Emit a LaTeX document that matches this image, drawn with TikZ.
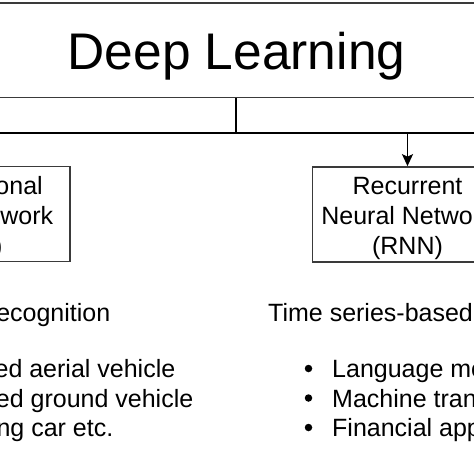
\documentclass[tikz,border=0pt]{standalone}
\usepackage{fontspec}
\setmainfont{Liberation Sans}
\usetikzlibrary{arrows.meta}
\definecolor{linec}{HTML}{3A3A3A}
\tikzset{
  boxline/.style={draw=linec, line width=1.7pt},
  catbox/.style={boxline, rectangle, inner sep=0pt, minimum height=95pt},
  boxtext/.style={font=\fontsize{25}{30}\selectfont, align=center, inner sep=0pt},
  bodytext/.style={font=\fontsize{25}{30}\selectfont, inner sep=0pt},
  bulletdot/.style={circle, fill=black, inner sep=0pt, minimum size=7.5pt},
  conn/.style={draw=black, line width=1.7pt},
  arr/.style={conn, -{Stealth[length=12pt, width=11pt, inset=2.5pt]}}
}
\begin{document}
\begin{tikzpicture}[x=1pt, y=1pt]
\useasboundingbox (0,0) rectangle (474,-474);
\clip (0,0) rectangle (474,-474);
\fill[white] (0,0) rectangle (474,-474);

% Deep Learning box
\node[catbox, minimum width=700pt, minimum height=94.5pt] (dl) at (236,-50.2) {};
\node[font=\fontsize{51.5}{60}\selectfont, inner sep=0pt, anchor=base] (dltxt) at (236.5,-69) {Deep Learning};

% bus
\coordinate (busL) at (-60,-133);
\coordinate (busR) at (540,-133);
\coordinate (busM) at (236,-133);
\coordinate (busC) at (-33,-133);
\coordinate (busN) at (407.5,-133);
\draw[conn] (busL) -- (busR);
\draw[conn] (dl.south -| busM) -- (busM);

% category boxes
\node[catbox, minimum width=206pt] (cnn) at (-33,-214) {};
\node[catbox, minimum width=190pt] (rnn) at (407.5,-214.5) {};
\node[boxtext, anchor=center] (cnntxt) at (-33,-218) {Convolutional\\Neural Network\\(CNN)};
\node[boxtext, anchor=center] (rnntxt) at (407.5,-218.5) {Recurrent\\Neural Network\\(RNN)};

\draw[arr] (busC) -- (cnn.north);
\draw[arr] (busN) -- (rnn.north);

% left application text
\node[bodytext, anchor=base east] (cnnapp) at (110.5,-321) {Image recognition};
\node[bodytext, anchor=base east] (cnn1) at (175.5,-377) {Unmanned aerial vehicle};
\node[bodytext, anchor=base east] (cnn2) at (193.5,-407) {Unmanned ground vehicle};
\node[bodytext, anchor=base east] (cnn3) at (113.5,-436) {Self-driving car etc.};

% right application text
\node[bodytext, anchor=base west] (rnnapp) at (268,-321) {Time series-based applications};
\node[bulletdot] (b1) at (308.5,-368.5) {};
\node[bulletdot] (b2) at (308.5,-398) {};
\node[bulletdot] (b3) at (308.5,-427.5) {};
\node[bodytext, anchor=base west] (rnn1) at (332,-377) {Language modeling};
\node[bodytext, anchor=base west] (rnn2) at (332,-407) {Machine translation};
\node[bodytext, anchor=base west] (rnn3) at (332,-436) {Financial applications};
\end{tikzpicture}
\end{document}
